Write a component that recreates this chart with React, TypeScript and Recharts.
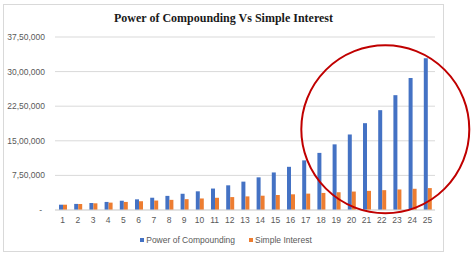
import React from "react";
import {
  Bar,
  BarChart,
  CartesianGrid,
  Legend,
  ReferenceDot,
  XAxis,
  YAxis,
} from "recharts";

const YEARS = ["1", "2", "3", "4", "5", "6", "7", "8", "9", "10", "11", "12", "13", "14", "15", "16", "17", "18", "19", "20", "21", "22", "23", "24", "25"];
const COMPOUNDING = [115000, 132000, 152000, 175000, 201000, 231000, 266000, 306000, 352000, 405000, 465000, 535000, 615000, 708000, 814000, 936000, 1076000, 1238000, 1423000, 1637000, 1882000, 2164000, 2489000, 2863000, 3292000];
const SIMPLE = [115000, 130000, 145000, 160000, 175000, 190000, 205000, 220000, 235000, 250000, 265000, 280000, 295000, 310000, 325000, 340000, 355000, 370000, 385000, 400000, 415000, 430000, 445000, 460000, 475000];
const Y_TICKS = [0, 750000, 1500000, 2250000, 3000000, 3750000];

const data = YEARS.map((year, i) => ({
  year,
  compounding: COMPOUNDING[i],
  simple: SIMPLE[i],
}));

const BLUE = "#4472C4";
const ORANGE = "#ED7D31";
const GREY_TEXT = "#595959";
const SANS = "'Liberation Sans', Arial, sans-serif";

// indian grouping: 37,50,000
function formatINR(v: number) {
  if (v === 0) return "-";
  const s = String(Math.round(v));
  const last3 = s.slice(-3);
  const rest = s.slice(0, -3);
  if (!rest) return last3;
  return rest.replace(/\B(?=(\d{2})+(?!\d))/g, ",") + "," + last3;
}

const YTick = (props: any) => {
  const { x, y, payload } = props;
  const isZero = payload.value === 0;
  return (
    <text
      x={isZero ? x - 3 : x}
      y={y}
      dy={3}
      textAnchor="end"
      fontSize={8.5}
      fontFamily={SANS}
      fill={GREY_TEXT}
    >
      {formatINR(payload.value)}
    </text>
  );
};

const LegendContent = () => (
  <div
    style={{
      display: "flex",
      justifyContent: "center",
      gap: 14,
      height: 14,
      alignItems: "center",
      fontFamily: SANS,
      fontSize: 8.5,
      color: GREY_TEXT,
    }}
  >
    <span style={{ display: "flex", alignItems: "center" }}>
      <span style={{ width: 4, height: 4, background: BLUE, marginRight: 2 }} />
      Power of Compounding
    </span>
    <span style={{ display: "flex", alignItems: "center" }}>
      <span style={{ width: 4, height: 4, background: ORANGE, marginRight: 2 }} />
      Simple Interest
    </span>
  </div>
);

const RedCircle = (props: any) => {
  const { cx, cy } = props;
  if (cx == null || cy == null) return null;
  return <circle cx={cx + 3.5} cy={cy} r={84} fill="none" stroke="#C00000" strokeWidth={2} />;
};

export default function App() {
  return (
    <div style={{ position: "fixed", left: 0, top: 0, width: 474, height: 258, background: "#fff" }}>
      <div
        style={{
          position: "absolute",
          left: 3,
          top: 4,
          width: 441,
          height: 248,
          border: "1px solid #D9D9D9",
          boxSizing: "border-box",
        }}
      />
      <div
        style={{
          position: "absolute",
          left: 3,
          top: 11,
          width: 441,
          textAlign: "center",
          fontFamily: "'Liberation Serif', 'DejaVu Serif', serif",
          fontWeight: "bold",
          fontSize: 12,
          color: "#1a1a1a",
        }}
      >
        Power of Compounding Vs Simple Interest
      </div>
      <BarChart
        width={474}
        height={258}
        data={data}
        margin={{ top: 37, right: 39, bottom: 16, left: 0 }}
        barSize={4}
        barGap={0}
        style={{ position: "absolute", left: 0, top: 0, overflow: "visible" }}
      >
        <CartesianGrid vertical={false} stroke="#D9D9D9" />
        <XAxis
          dataKey="year"
          interval={0}
          height={18}
          tickLine={false}
          axisLine={{ stroke: "#D9D9D9" }}
          tickSize={4}
          tickMargin={3}
          tick={{ fontSize: 8.5, fill: GREY_TEXT, fontFamily: SANS }}
        />
        <YAxis
          width={55}
          domain={[0, 3750000]}
          ticks={Y_TICKS}
          interval={0}
          axisLine={false}
          tickLine={false}
          tickSize={2}
          tickMargin={8}
          tick={<YTick />}
        />
        <Legend
          verticalAlign="bottom"
          content={<LegendContent />}
          wrapperStyle={{ top: 233, left: 0, width: 452 }}
        />
        <Bar dataKey="compounding" name="Power of Compounding" fill={BLUE} isAnimationActive={false} />
        <Bar dataKey="simple" name="Simple Interest" fill={ORANGE} isAnimationActive={false} />
        <ReferenceDot x="22" y={1750000} r={84} ifOverflow="visible" shape={<RedCircle />} />
      </BarChart>
    </div>
  );
}
